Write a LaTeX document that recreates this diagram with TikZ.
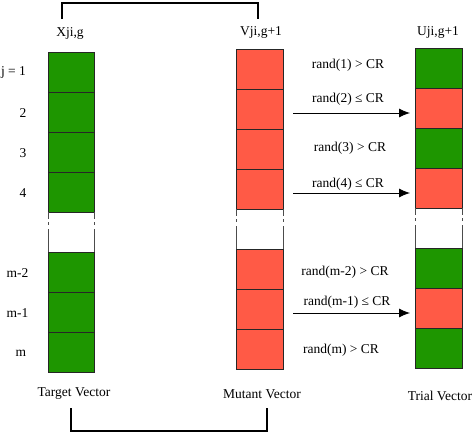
\documentclass[tikz,border=0pt]{standalone}
\usepackage{fontspec}
\setmainfont{Liberation Serif}
\usetikzlibrary{arrows.meta}
\definecolor{cellgreen}{RGB}{30,150,0}
\definecolor{cellred}{RGB}{255,90,70}
\tikzset{
  cell/.style={draw=black!85,line width=0.9pt,minimum width=46pt,minimum height=40pt,inner sep=0pt,outer sep=0pt},
  gcell/.style={cell,fill=cellgreen},
  rcell/.style={cell,fill=cellred},
  txt/.style={font=\fontsize{13.5}{16}\selectfont,inner sep=0pt},
  gapline/.style={draw=black!70,line width=0.9pt,dash pattern=on 7pt off 3pt on 3pt off 4pt on 40pt off 0pt},
  bracket/.style={line width=1.3pt},
}
\begin{document}
\begin{tikzpicture}[x=1pt,y=-1pt,>={Latex[length=11pt,width=9pt]}]
\useasboundingbox (0,0) rectangle (474,434);
% the three vectors
\foreach \n/\y in {1/72,2/112,3/152,4/192,m2/272,m1/312,m/352}
  \node[gcell] (x\n) at (71,\y) {};
\foreach \n/\y in {1/69,2/109,3/149,4/189,m2/269,m1/309,m/349}
  \node[rcell,minimum width=47pt] (v\n) at (259.5,\y) {};
\foreach \n/\y/\s in {1/68/gcell,2/108/rcell,3/148/gcell,4/188/rcell,m2/268/gcell,m1/308/rcell,m/348/gcell}
  \node[\s,minimum width=47pt] (u\n) at (438.5,\y) {};
\foreach \v in {x,v,u}{
  \draw[gapline] (\v4.south west) -- (\v m2.north west);
  \draw[gapline] (\v4.south east) -- (\v m2.north east);
}
% headers
\node[txt] (xlab) at (70,33) {Xji,g};
\node[txt] (vlab) at (261,32) {Vji,g+1};
\node[txt] (ulab) at (438,32) {Uji,g+1};
% row numbers
\node[txt] (j1) at (13.5,72) {j = 1};
\node[txt] (j2) at (23,113) {2};
\node[txt] (j3) at (23,153) {3};
\node[txt] (j4) at (23,193) {4};
\node[txt] (jm2) at (17.5,273) {m-2};
\node[txt] (jm1) at (17.5,313) {m-1};
\node[txt] (jm) at (21,353) {m};
% crossover tests
\node[txt] (c1) at (348,65) {rand(1) > CR};
\node[txt] (c2) at (348,99) {rand(2) ≤ CR};
\node[txt] (c3) at (350,148) {rand(3) > CR};
\node[txt] (c4) at (348,184) {rand(4) ≤ CR};
\node[txt] (cm2) at (345,272) {rand(m-2) > CR};
\node[txt] (cm1) at (347,302) {rand(m-1) ≤ CR};
\node[txt] (cm) at (341,350) {rand(m) > CR};
\foreach \n in {2,4,m1}
  \draw[->,line width=0.8pt,shorten <=10pt,shorten >=5pt] ([yshift=-4pt]v\n.east) -- ([yshift=-4pt]v\n.east -| u\n.west);
% footers
\node[txt] (xfoot) at (74,394) {Target Vector};
\node[txt] (vfoot) at (262,394) {Mutant Vector};
\node[txt] (ufoot) at (440,396) {Trial Vector};
% brackets
\coordinate (ta) at (62,19);
\coordinate (tb) at (258,19);
\coordinate (ba) at (71,408);
\coordinate (bb) at (267,408);
\draw[bracket] (ta) -- ++(0,-16) -| (tb);
\draw[bracket] (ba) -- ++(0,23) -| (bb);
\end{tikzpicture}
\end{document}
